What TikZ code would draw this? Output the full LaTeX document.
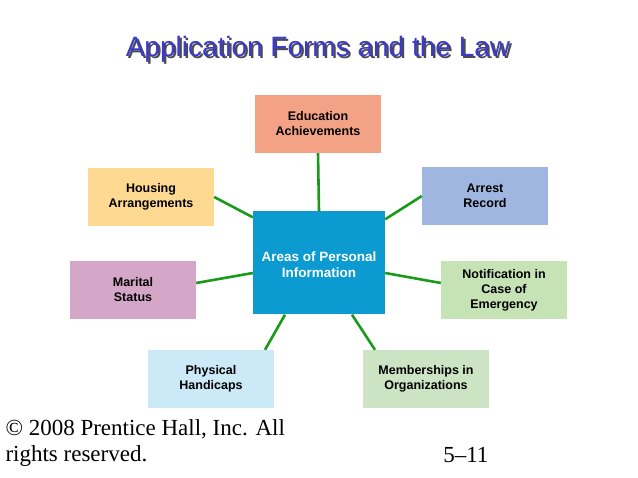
\documentclass[tikz,border=0pt]{standalone}
\usepackage{fontspec}
\setmainfont{Liberation Serif}
\newfontfamily\arial{Liberation Sans}
\usetikzlibrary{calc}
\definecolor{edu}{HTML}{F4A285}
\definecolor{hou}{HTML}{FDD992}
\definecolor{arr}{HTML}{9FB6E0}
\definecolor{cen}{HTML}{0B9BD0}
\definecolor{mar}{HTML}{D4A6C8}
\definecolor{noti}{HTML}{C6E3B5}
\definecolor{phy}{HTML}{CCE9F8}
\definecolor{mem}{HTML}{CCE4C4}
\definecolor{lnk}{HTML}{1A9A1A}
\definecolor{ttl}{HTML}{3A3ACC}
\tikzset{
 box/.style={minimum width=126pt,minimum height=58pt,inner sep=0pt,align=center,font=\arial\bfseries\fontsize{12.5}{15}\selectfont},
 lnkline/.style={lnk,line width=2.6pt}
}
\begin{document}
\begin{tikzpicture}[x=1pt,y=-1pt]
\useasboundingbox (0,0) rectangle (638,478);
\node (tsh) at (320,51) {\arial\fontsize{28}{32}\selectfont\color{black!70}Application Forms and the Law};
\node (t) at (318,49) {\arial\fontsize{28}{32}\selectfont\color{ttl}Application Forms and the Law};
\node[box,fill=edu] (e) at (318,124) {Education\\Achievements};
\node[box,fill=hou] (h) at (151,197) {Housing\\Arrangements};
\node[box,fill=arr] (a) at (485,196) {Arrest\\Record};
\node[box,fill=cen,minimum width=132pt,minimum height=103pt] (c) at (319,263) {};
\node[align=center,text=white,font=\arial\bfseries\fontsize{13.5}{16}\selectfont] (ct) at (319,265) {Areas of Personal\\Information};
\node[box,fill=mar] (m) at (133,290) {Marital\\Status};
\node[box,fill=noti] (n) at (504,290) {Notification in\\Case of\\Emergency};
\node[box,fill=phy] (p) at (211,379) {Physical\\Handicaps};
\node[box,fill=mem] (me) at (426,379) {Memberships in\\Organizations};
\draw[lnkline] (e.south) -- (c.north);
\draw[lnkline] (h.east) -- ([yshift=-6pt]c.north west);
\draw[lnkline] (a.west) -- ([yshift=-8pt]c.north east);
\draw[lnkline] ([yshift=7pt]m.east) -- ([yshift=-10pt]c.west);
\draw[lnkline] ([yshift=7pt]n.west) -- ([yshift=-10pt]c.east);
\draw[lnkline] ([xshift=54pt]p.north) -- ([xshift=-34pt]c.south);
\draw[lnkline] ([xshift=-51pt]me.north) -- ([xshift=33pt]c.south);
\node[anchor=west,align=left,font=\fontsize{23}{26}\selectfont] (cp) at (2,443) {© 2008 Prentice Hall, Inc. All\\rights reserved.};
\node[anchor=east,font=\fontsize{23}{26}\selectfont] (pg) at (492,455) {5–11};
\end{tikzpicture}
\end{document}
